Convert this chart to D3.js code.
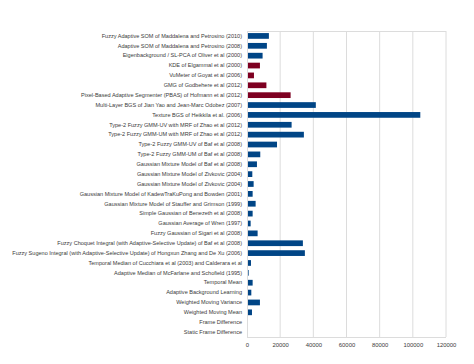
<!DOCTYPE html>
<html><head><meta charset="utf-8">
<script src="https://cdn.jsdelivr.net/npm/d3@7"></script>
<style>body{margin:0;background:#fff}svg{display:block}</style>
</head><body><svg id="c" width="474" height="364"></svg>
<script>
const categories = [
"Fuzzy Adaptive SOM of Maddalena and Petrosino (2010)",
"Adaptive SOM of Maddalena and Petrosino (2008)",
"Eigenbackground / SL-PCA of Oliver et al (2000)",
"KDE of Elgammal et al (2000)",
"VuMeter of Goyat et al (2006)",
"GMG of Godbehere et al (2012)",
"Pixel-Based Adaptive Segmenter (PBAS) of Hofmann et al (2012)",
"Multi-Layer BGS of Jian Yao and Jean-Marc Odobez (2007)",
"Texture BGS of Heikkila et al. (2006)",
"Type-2 Fuzzy GMM-UV with MRF of Zhao et al (2012)",
"Type-2 Fuzzy GMM-UM with MRF of Zhao et al (2012)",
"Type-2 Fuzzy GMM-UV of Baf et al (2008)",
"Type-2 Fuzzy GMM-UM of Baf et al (2008)",
"Gaussian Mixture Model of Baf et al (2008)",
"Gaussian Mixture Model of Zivkovic (2004)",
"Gaussian Mixture Model of Zivkovic (2004)",
"Gaussian Mixture Model of KadewTraKuPong and Bowden (2001)",
"Gaussian Mixture Model of Stauffer and Grimson (1999)",
"Simple Gaussian of Benezeth et al (2008)",
"Gaussian Average of Wren (1997)",
"Fuzzy Gaussian of Sigari et al (2008)",
"Fuzzy Choquet Integral (with Adaptive-Selective Update) of Baf et al (2008)",
"Fuzzy Sugeno Integral (with Adaptive-Selective Update) of Hongxun Zhang and De Xu (2006)",
"Temporal Median of Cucchiara et al (2003) and Calderara et al",
"Adaptive Median of McFarlane and Schofield (1995)",
"Temporal Mean",
"Adaptive Background Learning",
"Weighted Moving Variance",
"Weighted Moving Mean",
"Frame Difference",
"Static Frame Difference"
];
const values = [13200,12000,9400,7800,4200,11700,26300,41500,104500,26900,34300,18100,8000,6000,3200,4000,3400,5200,3400,2200,6400,33700,34900,2400,1000,3400,2600,7800,3000,300,300];
const groups = ["b","b","b","r","r","r","r","b","b","b","b","b","b","b","b","b","b","b","b","b","b","b","b","b","b","b","b","b","b","b","b"];
const ticks = [0,20000,40000,60000,80000,100000,120000];
const colors = {b:"#004586", r:"#7e0021"};

const svg = d3.select("#c");
const m = {left:247, right:446, top:31, bottom:337};
const x = d3.scaleLinear().domain([0,120000]).range([m.left,m.right]);
const y = d3.scaleBand().domain(categories.map((d,i)=>i)).range([m.top,m.bottom]).paddingInner(0.42).paddingOuter(0.21);

// grid
svg.append("g").selectAll("line").data(ticks.slice(1)).join("line")
  .attr("x1",d=>x(d)).attr("x2",d=>x(d)).attr("y1",m.top).attr("y2",m.bottom)
  .attr("stroke","#dcdcdc").attr("stroke-width",1);
svg.append("line").attr("x1",m.left).attr("x2",m.right).attr("y1",m.top+0.5).attr("y2",m.top+0.5).attr("stroke","#dcdcdc");
svg.append("line").attr("x1",m.left).attr("x2",m.right).attr("y1",m.bottom+0.5).attr("y2",m.bottom+0.5).attr("stroke","#dcdcdc");

// bars
svg.append("g").selectAll("rect").data(values).join("rect")
  .attr("x",x(0)).attr("y",(d,i)=>y(i)).attr("width",d=>x(d)-x(0)).attr("height",y.bandwidth())
  .attr("fill",(d,i)=>colors[groups[i]]);

// y axis
const ya = d3.axisLeft(d3.scaleBand().domain(categories.map((d,i)=>i)).range([m.top,m.bottom])).tickSize(0).tickPadding(5).tickFormat(i=>categories[i]);
const gy = svg.append("g").attr("transform",`translate(${m.left},0)`).call(ya);
gy.select(".domain").attr("stroke","#dcdcdc");
gy.selectAll("text").attr("font-family","Liberation Sans, Arial, sans-serif").attr("font-size",5.55).attr("fill","#3a3a3a");

// x axis
const xa = d3.axisBottom(x).tickValues(ticks).tickSize(0).tickPadding(6).tickFormat(d3.format("d"));
const gx = svg.append("g").attr("transform",`translate(0,${m.bottom})`).call(xa);
gx.select(".domain").remove();
gx.selectAll("text").attr("font-family","Liberation Sans, Arial, sans-serif").attr("font-size",5.9).attr("fill","#3a3a3a");
</script></body></html>
